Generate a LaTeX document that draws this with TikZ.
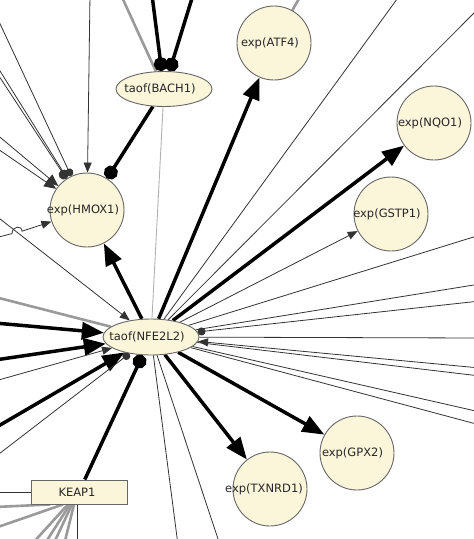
\documentclass[tikz,border=0pt]{standalone}
\usepackage{fontspec}
\setmainfont{DejaVu Sans}
\usetikzlibrary{arrows.meta,shapes.geometric,backgrounds}
\definecolor{cream}{HTML}{FBF5DA}
\definecolor{edgegray}{HTML}{9A9A9A}
\newcommand\nlbl[2][4pt]{\makebox[0pt]{\kern-#1#2\kern#1}}
\begin{document}
\begin{tikzpicture}[x=1pt,y=-1pt,
  nd/.style={draw=black!60, line width=0.9pt, fill=cream, inner sep=0pt, text=black!85, font=\fontsize{11.5}{13}\selectfont},
  circnode/.style={nd, circle, minimum size=74pt},
  ellnode/.style={nd, ellipse, minimum width=96pt, minimum height=35pt},
  boxnode/.style={nd, rectangle, minimum width=96pt, minimum height=24pt},
  thk/.style={line width=3.5pt, black},
  thn/.style={line width=0.8pt, black!80},
  gry/.style={line width=2.6pt, edgegray},
  gthn/.style={line width=0.9pt, black!30},
  bigarr/.style={-{Triangle[length=22pt,width=17pt]}},
  smarr/.style={-{Triangle[length=10pt,width=8pt]}},
  bigdot/.style={-{Circle[length=14pt]}},
  smdot/.style={-{Circle[length=8pt]}}]
\useasboundingbox (0,0) rectangle (474,539);
% nodes
\node[ellnode] (bach) at (164,89) {\nlbl{taof(BACH1)}};
\node[circnode] (hmox) at (87,210) {\nlbl{exp(HMOX1)}};
\node[circnode] (atf) at (274,43) {\nlbl{exp(ATF4)}};
\node[circnode] (nqo) at (434,123) {\nlbl{exp(NQO1)}};
\node[circnode] (gstp) at (391,214) {\nlbl{exp(GSTP1)}};
\node[ellnode, minimum height=36pt] (nfe) at (151,337) {\nlbl{taof(NFE2L2)}};
\node[boxnode] (keap) at (79,492) {\nlbl[2pt]{KEAP1}};
\node[circnode] (gpx) at (357,453) {\nlbl[4.5pt]{exp(GPX2)}};
\node[circnode] (txn) at (270,489) {\nlbl[6pt]{exp(TXNRD1)}};
% free ends
\coordinate (t1) at (152,-5); \coordinate (t2) at (193,-5);
\coordinate (t3) at (121,-5); \coordinate (t4) at (301,-5);
\coordinate (t5) at (90,-5);
\coordinate (l1) at (-5,13); \coordinate (l2) at (-5,63); \coordinate (l3) at (-5,70);
\coordinate (l4) at (-5,133); \coordinate (l5) at (-5,147); \coordinate (l6) at (-5,238);
\coordinate (l7) at (-5,215); \coordinate (l8) at (-5,297); \coordinate (l9) at (-5,323);
\coordinate (l10) at (-5,360); \coordinate (l11) at (-5,381); \coordinate (l12) at (-5,428);
\coordinate (l13) at (-5,457);
\coordinate (u1) at (400,-5); \coordinate (u2) at (480,7);
\coordinate (r1) at (480,235); \coordinate (r2) at (480,284); \coordinate (r3) at (480,301);
\coordinate (r4) at (480,338); \coordinate (r5) at (480,368); \coordinate (r6) at (480,376);
\coordinate (r7) at (480,412); \coordinate (r8) at (480,425);
\coordinate (b1) at (178,545); \coordinate (b2) at (220,545);
\coordinate (k1) at (-5,492); \coordinate (k2) at (-5,507); \coordinate (k3) at (-5,528);
\coordinate (k4) at (31,545); \coordinate (k5) at (44,545); \coordinate (k6) at (53,545);
\coordinate (k7) at (64,545); \coordinate (k8) at (77,545);
\coordinate (j1) at (12,233.6); \coordinate (j2) at (22,231.2);
\begin{scope}[on background layer]
\fill[white] (0,0) rectangle (474,539);
\clip (0,0) rectangle (474,539);
% top
\draw[gry] (t3) -- (bach);
\draw[thk, bigdot] (t1) -- (bach);
\draw[thk, bigdot] (t2) -- (bach);
\draw[gry] (t4) -- (atf);
\draw[thn, smarr] (t5) -- (hmox);
\draw[thk, bigdot] (bach) -- (hmox);
\draw[gthn] (bach) -- (nfe);
% left into HMOX1
\draw[thn, smdot] (l1) -- (hmox);
\draw[thn] (l2) -- (hmox);
\draw[thn, {Circle[length=10pt]}-] (hmox) -- (l3);
\draw[thn, -{Triangle[length=12pt,width=10pt]}] (l4) -- (hmox);
\draw[thn, -{Triangle[length=12pt,width=10pt]}] (l5) -- (hmox);
\draw[thn, smarr] (l6) -- (j1) .. controls (12,226) and (22,225) .. (j2) -- (hmox);
% left into NFE2L2
\draw[thn, smarr] (l7) -- (nfe);
\draw[gry] (l8) -- (nfe);
\draw[thk, bigarr] (l9) -- (nfe);
\draw[thk, bigarr] (l10) -- (nfe);
\draw[thn, smarr] (l11) -- (nfe);
\draw[thk, bigarr] (l12) -- (nfe);
\draw[thn, smdot] (l13) -- (nfe);
\draw[thk, bigdot] (keap) -- (nfe);
% out of NFE2L2
\draw[thk, bigarr] (nfe) -- (hmox);
\draw[thk, bigarr] (nfe) -- (atf);
\draw[thk, bigarr] (nfe) -- (nqo);
\draw[thn, smarr] (nfe) -- (gstp);
\draw[thk, bigarr] (nfe) -- (txn);
\draw[thk, bigarr] (nfe) -- (gpx);
\draw[thn] (nfe) -- (u1);
\draw[thn] (nfe) -- (u2);
\draw[thn] (nfe) -- (r1);
\draw[thn] (nfe) -- (r2);
\draw[thn, smdot] (r3) -- (nfe);
\draw[thn] (nfe) -- (r4);
\draw[thn, smarr] (r5) -- (nfe);
\draw[thn] (nfe) -- (r6);
\draw[thn] (nfe) -- (r7);
\draw[thn] (nfe) -- (r8);
\draw[thn] (nfe) -- (b1);
\draw[thn] (nfe) -- (b2);
% KEAP1
\draw[thn] (k1) -- (keap);
\draw[gry] ([xshift=-29pt]keap.south) -- (k2);
\draw[gry] ([xshift=-16pt]keap.south) -- (k3);
\draw[gry] ([xshift=-11pt]keap.south) -- (k4);
\draw[gry] ([xshift=-9pt]keap.south) -- (k5);
\draw[gry] ([xshift=-7pt]keap.south) -- (k6);
\draw[gry] ([xshift=-5pt]keap.south) -- (k7);
\draw[thn] ([xshift=-2pt]keap.south) -- (k8);
\end{scope}
\end{tikzpicture}
\end{document}
